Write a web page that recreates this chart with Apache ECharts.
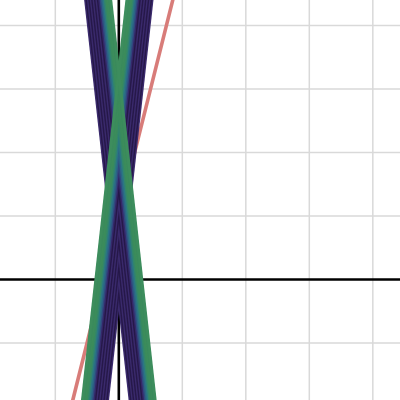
<!DOCTYPE html>
<html>
<head>
<meta charset="utf-8">
<script src="https://cdn.jsdelivr.net/npm/echarts@6/dist/echarts.min.js"></script>
<style>html,body{margin:0;padding:0;background:#fff}#c{width:400px;height:400px}</style>
</head>
<body>
<div id="c"></div>
<script>
// View window (graph units)
const xView = [-1.871, 4.428];
const yView = [-1.898, 4.40];
// Grid lines (units)
const gridXs = [-1, 1, 2, 3, 4];
const gridYs = [-1, 1, 2, 3, 4];
// Red line y = m x + b
const redSlope = 4;
const redIntercept = 1;
// Two bundles of steep lines y = ±9x + b
const bundleSlopes = [9, -9];
const bundleIntercepts = [-0.3, -0.1, 0.1, 0.3, 0.5, 0.7, 0.9, 1.1, 1.3, 1.5, 1.7, 1.9, 2.1, 2.3, 2.5, 2.7, 2.9, 3.1, 3.25];
const bundleColors = ['#3a2a6c', '#261849', '#3a2a6c', '#261849', '#3a2a6c', '#261849', '#3a2a6c', '#261849', '#3a2a6c', '#261849', '#352768',
  '#31487f', '#2c6486', '#2b7783', '#33866a', '#3a8b5c', '#3c8c5b', '#3a8a5c', '#3d8d5d'];

const xs = [-2.5, 5];
const ys = [-2.5, 5];
function lineData(m, b) { return xs.map(x => [x, m * x + b]); }

const series = [];
function plain(data, color, width, z) {
  series.push({ type: 'line', data: data, z: z, silent: true, showSymbol: false, symbol: 'none',
    lineStyle: { color: color, width: width } });
}
// grid
gridXs.forEach(v => plain(ys.map(y => [v, y]), '#d9d9d9', 1.5, 1));
gridYs.forEach(v => plain(xs.map(x => [x, v]), '#d9d9d9', 1.5, 1));
// axes
plain(ys.map(y => [0, y]), '#000', 2.6, 2);
plain(xs.map(x => [x, 0]), '#000', 2.6, 2);
// red line
plain(lineData(redSlope, redIntercept), '#d87c79', 3.6, 3);
// bundles
bundleIntercepts.forEach((b, i) => {
  bundleSlopes.forEach(m => plain(lineData(m, b), bundleColors[i], 3, 4));
});

const chart = echarts.init(document.getElementById('c'), null, { renderer: 'canvas' });
chart.setOption({
  animation: false,
  backgroundColor: '#fff',
  grid: { left: 0, right: 0, top: 0, bottom: 0 },
  xAxis: { type: 'value', min: xView[0], max: xView[1], show: false },
  yAxis: { type: 'value', min: yView[0], max: yView[1], show: false },
  series: series
});
</script>
</body>
</html>
